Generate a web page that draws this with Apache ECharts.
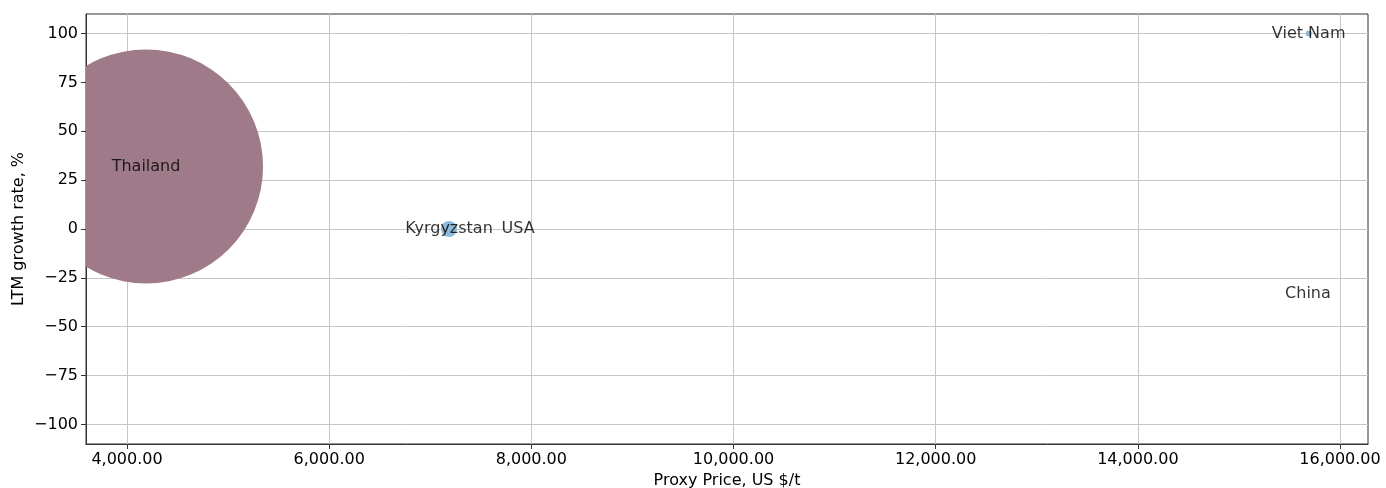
<!DOCTYPE html>
<html>
<head>
<meta charset="utf-8">
<script src="https://cdn.jsdelivr.net/npm/echarts@6/dist/echarts.min.js"></script>
<style>
  html, body { margin: 0; padding: 0; background: #fff; }
  #chart { width: 1386px; height: 488px; }
</style>
</head>
<body>
<div id="chart"></div>
<script>
// countries, proxy price (x), LTM growth (y), bubble size (px)
const countries = ['Thailand', 'Kyrgyzstan', 'USA', 'Viet Nam', 'China']
const prices = [4188, 7185, 7868, 15690, 15683]
const growth = [32, 0, 0, 100, -33]
const sizes = [234, 16, 0, 6, 0]
const colors = ['#9f7b8a', '#8fbbd9', '#8fbbd9', '#8fbbd9', '#8fbbd9']

const xTicks = [4000, 6000, 8000, 10000, 12000, 14000, 16000]
const yTicks = [-100, -75, -50, -25, 0, 25, 50, 75, 100]

const font = 'DejaVu Sans'
const fs = 16
const pts = countries.map((c, i) => [prices[i], growth[i], sizes[i], c])

const chart = echarts.init(document.getElementById('chart'))

// 坐标轴格式
const fmtX = v => v.toLocaleString('en-US', {minimumFractionDigits: 2, maximumFractionDigits: 2})
const fmtY = v => v < 0 ? '\u2212' + Math.abs(v) : String(v)

const gridLine = {show: true, lineStyle: {color: '#c6c6c6', width: 1}}

chart.setOption({
  animation: false,
  textStyle: {fontFamily: font},
  grid: {
    left: 86, right: 18, top: 14, bottom: 44,
    outerBoundsMode: 'none', containLabel: false,
    show: true, borderColor: '#333', borderWidth: 1
  },
  xAxis: {
    type: 'value', min: 3594, max: 16277,
    name: 'Proxy Price, US $/t', nameLocation: 'middle', nameGap: 29, nameMoveOverlap: false,
    nameTextStyle: {color: '#000', fontSize: fs, fontFamily: font},
    axisLine: {show: true, onZero: false, lineStyle: {color: '#333'}},
    axisTick: {show: true, length: 5, lineStyle: {color: '#333'}, customValues: xTicks},
    axisLabel: {color: '#000', fontSize: fs, margin: 8, customValues: xTicks, formatter: fmtX},
    splitLine: gridLine
  },
  yAxis: {
    type: 'value', min: -110, max: 110,
    name: 'LTM growth rate, %', nameLocation: 'middle', nameGap: 59, nameMoveOverlap: false,
    nameTextStyle: {color: '#000', fontSize: fs, fontFamily: font},
    axisLine: {show: true, onZero: false, lineStyle: {color: '#333'}},
    axisTick: {show: true, length: 5, lineStyle: {color: '#333'}, customValues: yTicks},
    axisLabel: {color: '#000', fontSize: fs, margin: 8, customValues: yTicks, formatter: fmtY},
    splitLine: gridLine
  },
  series: [
    {
      type: 'custom',
      clip: true,
      data: pts,
      renderItem: (params, api) => {
        const p = api.coord([api.value(0), api.value(1)])
        return {
          type: 'circle',
          shape: {cx: p[0], cy: p[1], r: api.value(2) / 2},
          style: {fill: colors[params.dataIndex]}
        }
      }
    },
    {
      type: 'scatter',
      data: pts,
      symbolSize: 0,
      z: 4,
      label: {
        show: true, position: 'inside', color: '#000',
        fontSize: fs, fontFamily: font,
        formatter: p => p.data[3]
      }
    }
  ]
})
</script>
</body>
</html>
